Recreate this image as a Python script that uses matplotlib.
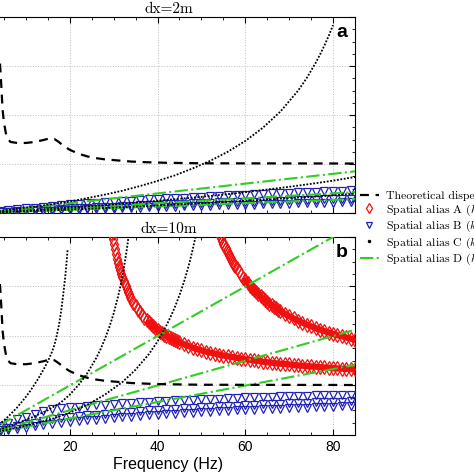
import numpy as np
import matplotlib
matplotlib.use('Agg')
import matplotlib.pyplot as plt
from matplotlib.lines import Line2D
from matplotlib.ticker import MultipleLocator

plt.rcParams['mathtext.fontset'] = 'cm'
plt.rcParams['font.family'] = ['Liberation Sans', 'DejaVu Sans']

# theoretical dispersion curve (Hz, m/s)
f_disp = [4.1, 4.4, 4.7, 5.0, 5.5, 6.0, 6.5, 8, 10, 12, 14, 15.5, 16.5, 17.5, 18.5, 20, 22, 24, 26, 28,
          30, 32, 34, 38, 42, 50, 85]
v_disp = [610, 520, 420, 370, 320, 300, 290, 286, 286, 290, 298, 305, 302, 290, 275, 258, 242, 231, 224, 219,
          216, 213, 210, 207, 205, 203, 202]

# spatial alias B, sampled every 2 Hz
f_B = np.arange(2, 85, 2)
Ba1 = [4, 8, 12, 15, 19, 22, 26, 29, 32, 35, 37, 40, 42, 45, 47, 49, 51, 54, 56, 58, 60, 62, 63, 65, 67, 69, 70,
       72, 74, 75, 77, 78, 80, 81, 83, 84, 85, 87, 88, 89, 91, 92]
Ba2 = [2, 4, 6, 8, 10, 12, 13, 15, 17, 19, 20, 22, 23, 25, 26, 28, 29, 31, 32, 33, 35, 36, 38, 39, 40, 41, 43,
       44, 45, 46, 47, 49, 50, 51, 52, 53, 54, 55, 56, 57, 58, 59]
Ba3 = [1, 3, 4, 5, 7, 8, 9, 10, 12, 13, 14, 15, 16, 17, 18, 19, 20, 22, 23, 24, 25, 26, 27, 28, 29, 30, 31,
       32, 32, 33, 34, 35, 36, 37, 38, 39, 40, 41, 41, 42, 43, 44]
Bb1 = [19, 38, 50, 63, 74, 85, 95, 105, 110, 113, 115, 118, 120, 123, 126, 128, 130, 132, 134, 136, 138, 140,
       141, 143, 144, 146, 147, 149, 150, 152, 153, 154, 155, 156, 157, 158, 159, 160, 161, 161, 162, 163]
Bb2 = [10, 19, 27, 35, 43, 50, 57, 63, 68, 72, 76, 79, 82, 85, 89, 91, 94, 97, 99, 101, 104, 106, 108, 110,
       112, 114, 116, 118, 119, 121, 123, 124, 126, 127, 128, 130, 131, 132, 133, 134, 135, 136]
Bb3 = [7, 13, 19, 24, 30, 35, 40, 45, 49, 53, 56, 59, 62, 65, 68, 71, 74, 76, 79, 81, 83, 85, 88, 90, 92, 93,
       95, 97, 99, 101, 102, 104, 105, 107, 108, 110, 111, 112, 114, 115, 116, 117]

# spatial alias C
f_C1a = [0, 4, 8, 12, 16, 20, 24, 28, 32, 36, 40, 44, 48, 52, 56, 60, 64, 68, 72, 74, 76, 77, 78, 79, 80]
C1a = [0, 8, 17, 26, 36, 47, 61, 75, 91, 110, 131, 154, 182, 213, 250, 294, 348, 414, 499, 551, 612, 646,
       683, 723, 767]
f_C23a = [0, 5, 10, 15, 20, 25, 30, 35, 40, 45, 50, 55, 60, 65, 70, 75, 80, 85]
C2a = [0, 5, 10, 16, 22, 28, 35, 42, 50, 58, 66, 75, 85, 96, 107, 119, 132, 147]
C3a = [0, 3, 7, 10, 14, 18, 22, 26, 31, 35, 40, 45, 50, 55, 61, 66, 72, 79]
f_C1b = [0, 2, 4, 6, 8, 10, 11, 12, 13, 14, 15, 16, 16.5, 17, 17.5, 18, 18.5, 19, 19.25, 19.5]
C1b = [0, 21, 43, 75, 111, 154, 178, 205, 233, 264, 297, 338, 364, 399, 441, 496, 565, 645, 693, 749]
f_C2b = [0, 3, 6, 9, 12, 15, 18, 20, 22, 24, 26, 27, 28, 29, 30, 31, 31.5, 32, 32.5, 33, 33.5, 34]
C2b = [0, 15, 33, 53, 76, 100, 132, 163, 202, 250, 310, 346, 388, 435, 491, 559, 598, 643, 693, 750, 816, 892]
f_C3b = [0, 4, 8, 12, 16, 20, 24, 28, 32, 35, 38, 40, 42, 43, 44, 45, 46, 46.5, 47, 47.5, 48, 48.5, 49, 49.5]
C3b = [0, 14, 29, 46, 65, 90, 122, 163, 214, 264, 326, 378, 442, 478, 519, 565, 617, 647, 678, 712, 749, 788,
       832, 879]

# spatial alias A (dx=10m only)
f_A1 = np.concatenate([np.arange(29.0, 34, 0.25), np.arange(34, 45, 0.5), np.arange(45, 86)])
A1 = [870, 843, 817, 793, 771, 751, 731, 713, 696, 680, 665, 651, 637, 624, 612, 600, 589, 578, 568, 559, 549,
      534, 520, 507, 495, 484, 474, 464, 455, 447, 439, 432, 425, 418, 412, 406, 400, 396, 391, 386, 382, 378,
      374, 367, 360, 353, 347, 342, 337, 333, 329, 325, 321, 318, 315, 312, 309, 306, 304, 301, 299, 296, 294,
      292, 290, 288, 287, 285, 283, 281, 280, 278, 277, 276, 274, 273, 272, 270, 269, 268, 267, 266, 265]
f_A2 = np.concatenate([np.arange(54.0, 58, 0.25), np.arange(58, 68, 0.5), np.arange(68, 86)])
A2 = [816, 805, 794, 783, 773, 763, 754, 745, 736, 727, 719, 711, 703, 696, 688, 681, 674, 661, 648, 636, 625,
      614, 604, 595, 585, 576, 568, 560, 552, 545, 538, 531, 524, 518, 512, 506, 501, 490, 480, 471, 462, 454,
      446, 439, 432, 426, 420, 414, 409, 403, 399, 394, 389, 385]

# spatial alias D: straight lines through the origin
f_D = [0, 85]
Da = [[0, 170], [0, 85], [0, 57]]
Db = [[0, 850], [0, 425], [0, 283]]

blue = '#2020b8'
green = '#33cc22'
red = '#f01010'
dot_style = dict(color='k', ls=(0, (1, 0.9)), lw=1.3, zorder=4)
tri_style = dict(marker='v', ls='none', mfc='none', mec=blue, ms=6, mew=0.9, zorder=3)
dia_style = dict(marker='d', ls='none', mfc='none', mec=red, ms=7, mew=0.9, zorder=3)

fig = plt.figure(figsize=(4.74, 4.74), dpi=100)
axa = fig.add_axes([-0.038, 0.5506, 0.787, 0.4135])
axb = fig.add_axes([-0.038, 0.0823, 0.787, 0.4177])

panels = [(axa, 'dx=2m', 'a', [Ba1, Ba2, Ba3], Da),
          (axb, 'dx=10m', 'b', [Bb1, Bb2, Bb3], Db)]
for ax, title, letter, Bs, Ds in panels:
    ax.plot(f_disp, v_disp, color='k', ls='--', lw=1.6, dashes=(4, 3), zorder=5)
    for vb in Bs:
        ax.plot(f_B, vb, **tri_style)
    for vd in Ds:
        ax.plot(f_D, vd, color=green, lw=1.5, ls='-.', zorder=4)
    ax.set_xlim(0, 85)
    ax.set_ylim(0, 800)
    ax.set_xticks([20, 40, 60, 80])
    ax.xaxis.set_minor_locator(MultipleLocator(5))
    ax.yaxis.set_major_locator(MultipleLocator(200))
    ax.yaxis.set_minor_locator(MultipleLocator(50))
    ax.tick_params(which='both', direction='in', top=True, right=True, labelsize=10, labelleft=False)
    ax.tick_params(which='major', length=4)
    ax.tick_params(which='minor', length=2.5)
    ax.grid(True, which='major', ls=':', color='0.75', lw=0.7)
    ax.set_title(title, fontfamily='cmr10', fontsize=11, pad=3)
    ax.text(0.965, 0.9, letter, transform=ax.transAxes, ha='center', va='baseline',
            fontsize=14, fontweight='bold', zorder=10)

axa.plot(f_C1a, C1a, **dot_style)
axa.plot(f_C23a, C2a, **dot_style)
axa.plot(f_C23a, C3a, **dot_style)

axb.plot(f_C1b, C1b, **dot_style)
axb.plot(f_C2b, C2b, **dot_style)
axb.plot(f_C3b, C3b, **dot_style)
A1 = np.array(A1)
A2 = np.array(A2)
band1 = f_A1 >= 38
band2 = f_A2 >= 60
axb.plot(f_A1[band1], A1[band1], color=red, lw=4.5, solid_capstyle='round', zorder=3)
axb.plot(f_A2[band2], A2[band2], color=red, lw=4.5, solid_capstyle='round', zorder=3)
axb.plot(f_A1, A1, **dia_style)
axb.plot(f_A2, A2, **dia_style)

axa.tick_params(labelbottom=False)
axb.set_xlabel('Frequency (Hz)', fontsize=11.5, labelpad=2)

handles = [Line2D([], [], color='k', ls='--', lw=1.6, dashes=(4, 3)),
           Line2D([], [], marker='d', ls='none', mfc='none', mec=red, ms=5, mew=0.9),
           Line2D([], [], marker='v', ls='none', mfc='none', mec=blue, ms=5, mew=0.9),
           Line2D([], [], marker='.', ls='none', color='k', ms=3),
           Line2D([], [], color=green, lw=1.5, ls='-.')]
labels = ['Theoretical dispersion curve',
          r'Spatial alias A ($k_a=k-2\pi n/dx$)',
          r'Spatial alias B ($k_b=k+2\pi n/dx$)',
          r'Spatial alias C ($k_c=2\pi n/dx-k$)',
          r'Spatial alias D ($k_d=2\pi n/dx$)']
fig.legend(handles, labels, loc='upper left', bbox_to_anchor=(360 / 474, 1 - 191 / 474),
           frameon=False, prop={'family': 'cmr10', 'size': 8.5}, handlelength=1.6,
           handletextpad=0.6, labelspacing=0.1, borderpad=0, borderaxespad=0)

fig.savefig('out.png')
